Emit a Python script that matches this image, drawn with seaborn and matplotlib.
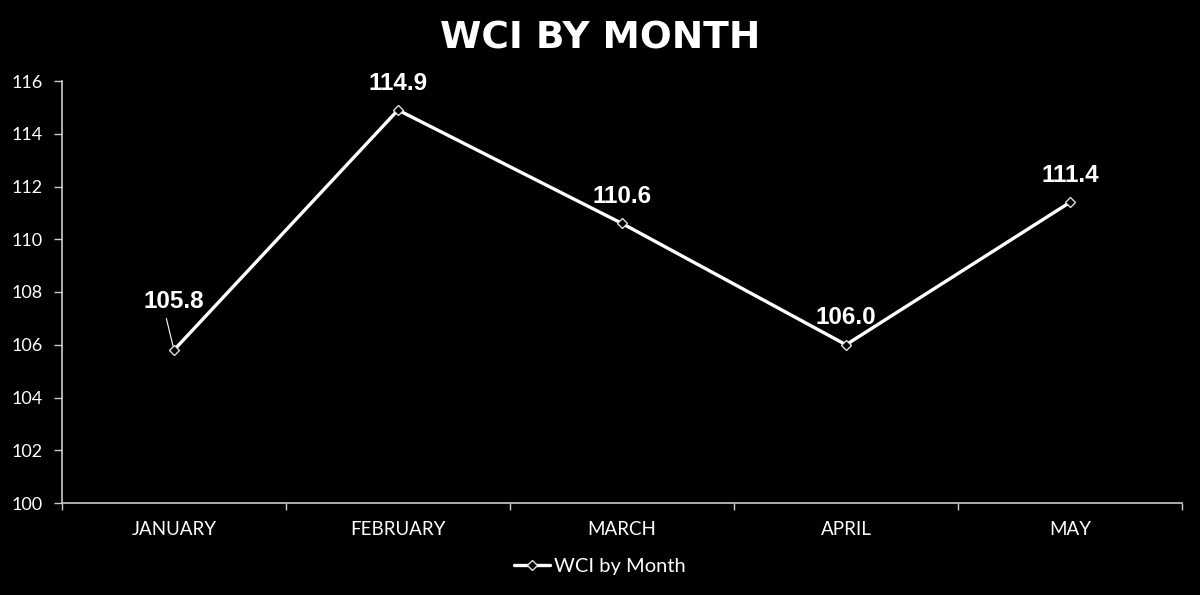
import matplotlib
matplotlib.use("Agg")
import matplotlib.pyplot as plt
import seaborn as sns
import pandas as pd
from matplotlib.ticker import FixedLocator

months = ["JANUARY", "FEBRUARY", "MARCH", "APRIL", "MAY"]
wci = [105.8, 114.9, 110.6, 106.0, 111.4]
label_text = ["105.8", "114.9", "110.6", "106.0", "111.4"]
y_ticks = [100, 102, 104, 106, 108, 110, 112, 114, 116]
series_name = "WCI by Month"
title = "WCI BY MONTH"

sns.set_theme(style="dark")
plt.rcParams["font.family"] = ["Lato", "DejaVu Sans"]

df = pd.DataFrame({"month": months, "wci": wci, "series": series_name})

fig = plt.figure(figsize=(12, 5.95), dpi=100, facecolor="black")
ax = fig.add_axes([62/1200, 1-503/595, (1182-62)/1200, (503-81)/595])
ax.set_facecolor("black")

sns.lineplot(data=df, x="month", y="wci", hue="series", palette=["white"],
             marker="D", markersize=5.5, markerfacecolor="black",
             markeredgecolor="#dddddd", markeredgewidth=1.0,
             linewidth=2.4, ax=ax, sort=False)

ax.set_xlim(-0.5, len(months) - 0.5)
ax.set_ylim(100, 116)
ax.set_yticks(y_ticks)
ax.set_xticks(range(len(months)))
ax.xaxis.set_minor_locator(FixedLocator([i - 0.5 for i in range(len(months) + 1)]))
ax.set_yticklabels([str(t) for t in y_ticks])
ax.set_xticklabels(months)
ax.tick_params(axis="x", which="major", length=0, pad=13, labelcolor="white",
               labelsize=13.5)
ax.tick_params(axis="x", which="minor", length=5, color="#cccccc", width=1, direction="out", bottom=True)
ax.tick_params(axis="y", length=6, color="#cccccc", width=1, direction="out", left=True, pad=8,
               labelcolor="white", labelsize=13)
ax.set_xlabel("")
ax.set_ylabel("")
ax.grid(False)
for s in ["top", "right"]:
    ax.spines[s].set_visible(False)
for s in ["left", "bottom"]:
    ax.spines[s].set_visible(True)
    ax.spines[s].set_color("#cccccc")
    ax.spines[s].set_linewidth(1.2)

for i, (v, t) in enumerate(zip(wci, label_text)):
    if i == 0:
        ax.annotate(t, xy=(i, v), xytext=(0, 27), textcoords="offset points",
                    ha="center", va="bottom", color="white", fontsize=17.5,
                    fontweight="bold", family="Liberation Sans",
                    arrowprops=dict(arrowstyle="-", color="white", lw=0.8,
                                    shrinkA=2, shrinkB=3,
                                    relpos=(0.35, 0.0)))
    else:
        ax.annotate(t, xy=(i, v), xytext=(0, 11), textcoords="offset points",
                    ha="center", va="bottom", color="white", fontsize=17.5,
                    fontweight="bold", family="Liberation Sans")

handles, labels = ax.get_legend_handles_labels()
ax.get_legend().remove()
leg = fig.legend(handles, labels, loc="center", bbox_to_anchor=(0.5, 1 - 566/595),
                 frameon=False, fontsize=14.5, handlelength=1.8, handletextpad=0.2)
for txt in leg.get_texts():
    txt.set_color("white")

fig.suptitle(title, color="white", fontsize=27, fontweight="bold",
             family="DejaVu Sans", y=0.965)

fig.savefig("out.png", dpi=100, facecolor="black")
